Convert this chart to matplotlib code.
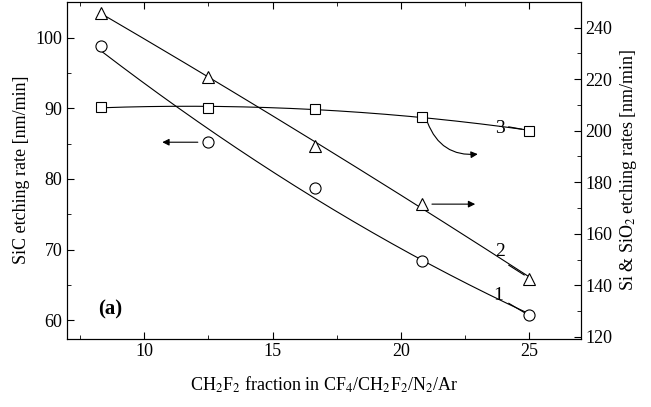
import numpy as np
import matplotlib
matplotlib.use("Agg")
import matplotlib.pyplot as plt
from matplotlib.ticker import AutoMinorLocator

plt.rcParams['font.family'] = ['Liberation Serif', 'DejaVu Serif']
plt.rcParams['mathtext.fontset'] = 'stix'

frac = [8.33, 12.5, 16.67, 20.83, 25.0]
sic_rate = [98.8, 85.2, 78.7, 68.4, 60.7]        # curve 1, left axis
si_rate = [245.6, 221.0, 194.2, 171.5, 142.6]    # curve 2, right axis
sio2_rate = [209.1, 209.0, 208.3, 205.4, 200.0]  # curve 3, right axis

fig = plt.figure(figsize=(6.51, 4.07), dpi=100)
ax = fig.add_axes([0.103, 0.168, 0.789, 0.828])
ax2 = ax.twinx()

xs = np.linspace(8.33, 25, 200)
ax.plot(xs, np.polyval(np.polyfit(frac, sic_rate, 2), xs), 'k-', lw=0.8)
ax.plot(frac, sic_rate, 'ko', mfc='white', ms=8, mew=0.8)
ax2.plot(xs, np.polyval(np.polyfit(frac, si_rate, 2), xs), 'k-', lw=0.8)
ax2.plot(frac, si_rate, 'k^', mfc='white', ms=9, mew=0.8)
ax2.plot(xs, np.polyval(np.polyfit(frac, sio2_rate, 2), xs), 'k-', lw=0.8)
ax2.plot(frac, sio2_rate, 'ks', mfc='white', ms=7, mew=0.8)

ax.set_xlim(7, 27)
ax.set_ylim(57.4, 105.1)
ax2.set_ylim(119.3, 250.1)
ax.set_xticks([10, 15, 20, 25])
ax.set_yticks([60, 70, 80, 90, 100])
ax2.set_yticks(range(120, 241, 20))
for a in (ax, ax2):
    a.tick_params(direction='in', labelsize=13, length=5)
    a.tick_params(which='minor', direction='in', length=3)
    a.yaxis.set_minor_locator(AutoMinorLocator(2))
ax.xaxis.set_minor_locator(AutoMinorLocator(2))
ax.tick_params(top=True, which='both')

ax.set_xlabel(r'CH$_2$F$_2$ fraction in CF$_4$/CH$_2$F$_2$/N$_2$/Ar', fontsize=13, labelpad=10)
ax.set_ylabel('SiC etching rate [nm/min]', fontsize=13)
ax2.set_ylabel(r'Si & SiO$_2$ etching rates [nm/min]', fontsize=13)

ax.text(8.2, 61.5, '(a)', fontsize=15, fontweight='bold', va='center')
ax2.text(23.65, 153, '2', fontsize=14, va='center')
ax2.text(23.65, 201, '3', fontsize=14, va='center')
ax.text(23.6, 63.5, '1', fontsize=14, va='center')
ax.plot([24.2, 24.8], [62.4, 61.1], 'k-', lw=0.8)
ax2.plot([24.2, 24.8], [147.8, 144], 'k-', lw=0.8)
ax2.plot([24.2, 24.7], [201.5, 200.6], 'k-', lw=0.8)

ax.annotate('', xy=(10.6, 85.2), xytext=(12.2, 85.2),
            arrowprops=dict(arrowstyle='-|>', color='k', lw=0.8))
ax2.annotate('', xy=(23.0, 171.5), xytext=(21.1, 171.5),
             arrowprops=dict(arrowstyle='-|>', color='k', lw=0.8))
ax2.annotate('', xy=(23.1, 191), xytext=(21.0, 204.2),
             arrowprops=dict(arrowstyle='-|>', color='k', lw=0.8,
                             connectionstyle='arc3,rad=0.4'))

fig.savefig('out.png', dpi=100)
